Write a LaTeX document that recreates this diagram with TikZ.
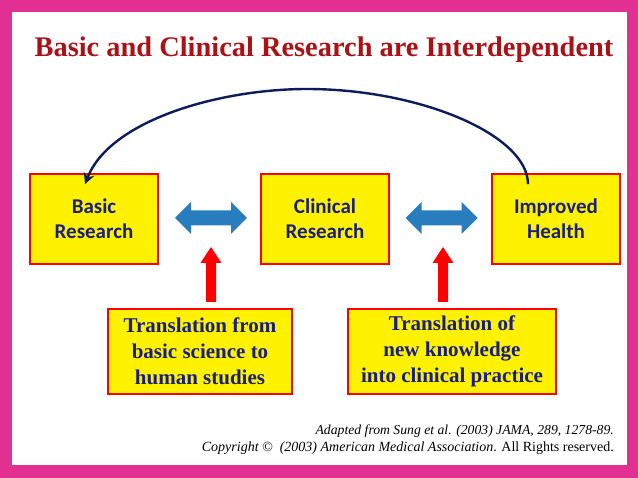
\documentclass[tikz,border=0pt]{standalone}
\usepackage{fontspec}
\setmainfont{Liberation Serif}
\newfontfamily\boxfont{Carlito}
\usetikzlibrary{arrows.meta}
\definecolor{pinkframe}{RGB}{226,48,146}
\definecolor{titlered}{RGB}{170,18,22}
\definecolor{navy}{RGB}{24,30,130}
\definecolor{curvenavy}{RGB}{12,28,90}
\definecolor{steel}{RGB}{40,125,190}
\tikzset{
  x=1pt,y=-1pt,
  topbox/.style={draw=red,line width=1.6pt,fill=yellow,minimum width=128pt,minimum height=90pt,
    align=center,text=navy,font=\boxfont\bfseries\fontsize{21}{25}\selectfont},
  botbox/.style={draw=red,line width=1.6pt,fill=yellow,minimum height=85pt,
    align=center,text=navy,font=\bfseries\fontsize{21}{26}\selectfont},
  dblarrow/.style={fill=steel},
  uparrow/.style={fill=red},
}
\begin{document}
\begin{tikzpicture}
\fill[pinkframe] (0,0) rectangle (638,478);
\fill[white] (12,12) rectangle (627,465);
\useasboundingbox (0,0) rectangle (638,478);
\node[text=titlered,font=\bfseries\fontsize{28.4}{32}\selectfont] (title) at (324,50) {Basic and Clinical Research are Interdependent};
\node[topbox] (basic) at (94,219) {Basic\\Research};
\node[topbox] (clin) at (325,219) {Clinical\\Research};
\node[topbox] (imp) at (556,219) {Improved\\Health};
\coordinate (a1) at (211,218);
\coordinate (a2) at (441.5,218);
\foreach \c in {a1,a2}{
  \fill[dblarrow,shift={(\c)}] (-36,0) -- (-20,-16) -- (-20,-7.5) -- (20,-7.5) -- (20,-16) -- (36,0)
    -- (20,16) -- (20,7.5) -- (-20,7.5) -- (-20,16) -- cycle;
}
\coordinate (u1) at (211,302);
\coordinate (u2) at (443,302);
\foreach \c in {u1,u2}{
  \fill[uparrow,shift={(\c)}] (-5,0) -- (-5,-39) -- (-10.5,-39) -- (0,-55) -- (10.5,-39) -- (5,-39) -- (5,0) -- cycle;
}
\node[botbox,minimum width=184pt] (t1) at (200,351.5) {Translation from\\basic science to\\ human studies};
\node[botbox,minimum width=208pt] (t2) at (452,351.5) {Translation of\\new knowledge\\into clinical practice};
\coordinate (cstart) at ([xshift=-28pt,yshift=-11pt]imp.north);
\coordinate (cpeak) at (307,89);
\coordinate (cend) at ([xshift=-9pt,yshift=-11pt]basic.north);
\draw[curvenavy,line width=2.4pt,-{Stealth[length=11pt,width=11pt]}] (cstart) .. controls (528,135) and (420,89) .. (cpeak) .. controls (220,89) and (110,120) .. (cend);
\node[anchor=east,font=\itshape\fontsize{13.7}{16}\selectfont,inner sep=0pt] (note1) at (614,431) {Adapted from Sung et al. (2003) JAMA, 289, 1278-89.};
\node[anchor=east,font=\fontsize{14}{16}\selectfont,inner sep=0pt] (note2) at (614,448) {\itshape Copyright ©\ \ (2003) American Medical Association\upshape. All Rights reserved.};
\end{tikzpicture}
\end{document}
